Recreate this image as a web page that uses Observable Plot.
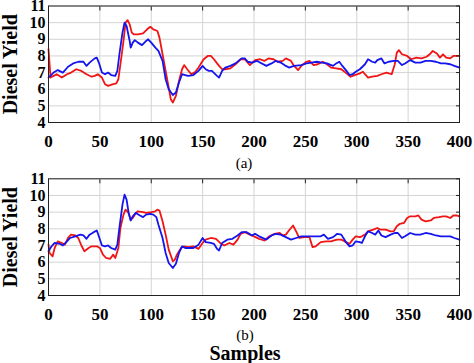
<!DOCTYPE html>
<html>
<head>
<meta charset="utf-8">
<script src="https://cdn.jsdelivr.net/npm/d3@7"></script>
<script src="https://cdn.jsdelivr.net/npm/@observablehq/plot@0.6"></script>
<style>
  html, body { margin: 0; padding: 0; background: #fff; }
  #wrap { position: relative; width: 474px; height: 363px; overflow: hidden; font-family: "Liberation Serif", "DejaVu Serif", serif; }
  .panel { position: absolute; left: 0; }
  .cap { position: absolute; color: #000; white-space: nowrap; transform: translateX(-50%); line-height: 1; }
</style>
</head>
<body>
<div id="wrap">
  <div id="pa" class="panel" style="top:0px"></div>
  <div id="pb" class="panel" style="top:165px"></div>
  <div class="cap" style="left:244px; top:156px; font-size:15px;">(a)</div>
  <div class="cap" style="left:245px; top:328px; font-size:15px;">(b)</div>
  <div class="cap" style="left:245px; top:343px; font-size:20px; font-weight:bold;">Samples</div>
</div>
<script>
const xTicks = [0, 50, 100, 150, 200, 250, 300, 350, 400];
const yTicks = [4, 5, 6, 7, 8, 9, 10, 11];
const yLabel = "Diesel Yield";

// Panel (a)
const sampA_red = [0,2,5,8,13,18,22,27,32,37,42,45,48,52,55,58,63,66,68,70,73,75,77,79,81,83,87,92,96,99,102,106,108,111,114,117,119,121,124,127,130,132,135,139,143,146,151,155,158,161,166,169,172,177,182,187,191,196,201,206,210,214,219,223,228,231,236,239,243,246,251,254,258,262,267,271,275,280,285,290,294,298,303,306,308,311,315,320,324,329,334,337,339,341,344,349,353,358,363,368,371,374,378,381,384,387,391,394,397,400];
const valA_red = [8.4,6.7,6.8,6.9,6.7,6.9,7.0,7.2,7.1,6.9,6.75,6.8,6.9,6.7,6.3,6.2,6.3,6.35,6.6,7.5,8.9,10.0,10.15,9.9,9.4,9.3,9.3,9.35,9.6,9.75,9.6,9.5,9.1,8.1,7.1,6.1,5.4,5.2,5.6,6.5,7.2,7.45,7.2,6.9,7.05,7.3,7.8,8.0,8.0,7.8,7.4,7.2,7.2,7.25,7.5,7.8,7.8,7.45,7.75,7.8,7.7,7.85,7.8,7.65,7.7,7.85,7.7,7.4,7.15,7.4,7.65,7.7,7.45,7.5,7.65,7.5,7.3,7.25,7.2,6.95,6.75,6.85,6.95,7.05,6.9,6.7,6.75,6.8,6.9,7.0,6.9,7.5,8.2,8.35,8.1,8.0,7.8,7.9,7.85,7.95,8.1,8.3,8.15,7.9,8.1,7.9,7.85,8.0,8.0,8.0];
const sampA_blue = [0,5,9,14,19,24,29,34,37,40,45,47,49,52,55,58,61,65,67,69,72,74,76,79,80,82,84,87,91,95,97,100,104,107,111,114,117,121,124,127,130,133,136,141,146,150,153,156,159,164,166,169,172,177,182,185,188,191,194,198,203,212,217,221,226,231,234,239,246,251,256,261,266,271,277,280,283,286,290,293,296,299,303,308,311,315,318,320,324,327,331,336,340,344,347,352,357,362,367,372,377,382,386,391,395,400];
const valA_blue = [6.7,7.0,7.15,7.0,7.35,7.55,7.65,7.65,7.4,7.6,7.85,7.9,7.6,7.0,6.9,7.0,6.85,6.8,7.1,8.1,9.4,10.0,9.8,8.9,8.5,8.8,8.95,8.8,8.65,8.9,9.0,8.8,8.5,8.3,7.7,6.6,6.0,5.65,5.8,6.4,6.9,6.85,6.8,6.85,7.1,7.4,7.2,7.1,7.1,6.8,6.7,7.1,7.3,7.4,7.55,7.7,7.85,7.85,7.65,7.6,7.7,7.4,7.55,7.7,7.6,7.4,7.3,7.4,7.45,7.55,7.6,7.65,7.6,7.55,7.4,7.55,7.65,7.4,7.1,6.85,6.9,7.05,7.2,7.5,7.8,7.65,7.6,7.75,7.85,7.55,7.65,7.7,7.7,7.45,7.55,7.75,7.6,7.6,7.7,7.7,7.65,7.55,7.55,7.5,7.4,7.3];

// Panel (b)
const sampB_red = [0,1,4,6,9,13,16,19,22,26,29,32,35,39,42,47,50,53,56,60,63,65,68,70,73,75,78,80,82,85,87,92,95,100,104,106,108,111,114,117,121,123,125,129,132,136,141,146,150,153,158,163,168,171,176,180,184,187,191,196,200,205,210,215,220,225,228,231,234,238,241,244,249,254,257,260,265,270,275,278,281,285,288,293,296,299,303,305,308,311,316,320,323,328,333,336,339,342,346,349,352,357,360,363,367,372,375,380,384,387,391,394,397,400];
const valB_red = [7.05,6.55,6.35,6.85,7.25,7.15,7.05,7.45,7.65,7.6,7.45,7.0,6.65,6.85,6.95,6.95,6.85,6.45,6.25,6.2,6.45,6.25,6.85,8.05,8.85,9.15,8.95,8.55,8.65,8.95,9.05,9.0,8.95,9.0,9.05,9.15,9.1,8.45,7.65,6.75,6.05,6.15,6.45,6.85,6.95,6.9,6.95,6.8,7.15,7.35,7.45,7.4,7.1,7.0,7.15,7.05,7.35,7.7,7.8,7.65,7.55,7.4,7.3,7.55,7.7,7.75,7.6,7.65,7.9,8.2,7.85,7.45,7.5,7.5,6.9,6.95,7.2,7.25,7.25,7.3,7.35,7.35,7.25,7.1,7.35,7.55,7.5,7.55,7.65,7.85,7.95,8.05,7.95,7.95,7.85,7.85,8.15,8.3,8.35,8.65,8.75,8.75,8.8,8.55,8.45,8.5,8.65,8.7,8.75,8.75,8.65,8.8,8.8,8.75];
const sampB_blue = [0,3,6,11,14,18,21,26,31,34,37,40,44,47,49,52,55,58,61,65,67,69,72,74,76,78,80,82,85,89,92,95,99,102,105,107,111,114,117,121,124,127,130,133,136,141,146,150,153,158,161,164,166,169,174,179,184,188,193,198,201,205,212,217,221,226,231,236,241,246,251,256,261,265,268,272,277,281,285,289,293,296,299,303,305,308,311,315,318,321,324,328,333,337,340,344,347,352,357,362,367,372,377,382,386,391,395,400];
const valB_blue = [6.65,6.95,7.15,7.1,7.0,7.25,7.45,7.55,7.65,7.6,7.4,7.65,7.8,7.9,7.55,7.0,6.95,7.0,6.85,6.75,7.05,8.05,9.45,10.05,9.75,8.95,8.5,8.75,8.95,8.8,8.7,8.85,8.9,8.85,8.7,8.25,7.45,6.55,5.95,5.65,5.9,6.55,6.95,6.85,6.85,6.85,7.05,7.45,7.2,7.15,7.1,6.8,6.7,7.15,7.35,7.4,7.6,7.8,7.8,7.6,7.7,7.55,7.35,7.6,7.7,7.65,7.5,7.35,7.45,7.55,7.55,7.55,7.55,7.55,7.65,7.4,7.5,7.7,7.65,7.25,6.95,7.0,7.25,7.2,7.15,7.55,7.85,7.75,7.65,7.9,7.6,7.5,7.65,7.75,7.75,7.45,7.55,7.75,7.65,7.65,7.75,7.7,7.6,7.55,7.55,7.55,7.45,7.35];

const RED = "#f01414";
const BLUE = "#1414ee";

function toRows(xs, ys) { return xs.map((x, i) => ({x, y: ys[i]})); }

function panel({red, blue, height, marginTop, marginBottom}) {
  return Plot.plot({
    width: 474,
    height,
    marginLeft: 48,
    marginRight: 15,
    marginTop,
    marginBottom,
    style: {fontFamily: "'Liberation Serif', 'DejaVu Serif', serif", overflow: "visible", background: "transparent", color: "#000"},
    x: {domain: [0, 400], ticks: xTicks},
    y: {domain: [4, 11], ticks: yTicks},
    marks: [
      Plot.gridX(xTicks, {stroke: "#d4d4d4", strokeOpacity: 1}),
      Plot.gridY(yTicks, {stroke: "#d4d4d4", strokeOpacity: 1}),
      Plot.line(red, {x: "x", y: "y", stroke: RED, strokeWidth: 1.8}),
      Plot.line(blue, {x: "x", y: "y", stroke: BLUE, strokeWidth: 1.8}),
      Plot.frame({stroke: "#222", strokeWidth: 1}),
      Plot.axisX(xTicks, {anchor: "bottom", tickSize: 0, tickPadding: 12, fontSize: 17, fontWeight: "bold", label: null}),
      Plot.axisY(yTicks, {anchor: "left", tickSize: 0, tickPadding: 3, fontSize: 16, fontWeight: "bold", label: null}),
      Plot.axisY([], {anchor: "left", tickSize: 0, label: yLabel, labelAnchor: "center", labelOffset: 46, labelArrow: "none", fontSize: 20, fontWeight: "bold"}),
      Plot.axisY(yTicks, {anchor: "right", tickSize: -4, tickFormat: () => "", label: null, stroke: "#222"}),
      Plot.axisX(xTicks, {anchor: "top", tickSize: -4, tickFormat: () => "", label: null, stroke: "#222"})
    ]
  });
}

document.getElementById("pa").appendChild(panel({
  red: toRows(sampA_red, valA_red),
  blue: toRows(sampA_blue, valA_blue),
  height: 165, marginTop: 5.5, marginBottom: 43
}));
document.getElementById("pb").appendChild(panel({
  red: toRows(sampB_red, valB_red),
  blue: toRows(sampB_blue, valB_blue),
  height: 198, marginTop: 13.3, marginBottom: 68
}));
</script>
</body>
</html>
